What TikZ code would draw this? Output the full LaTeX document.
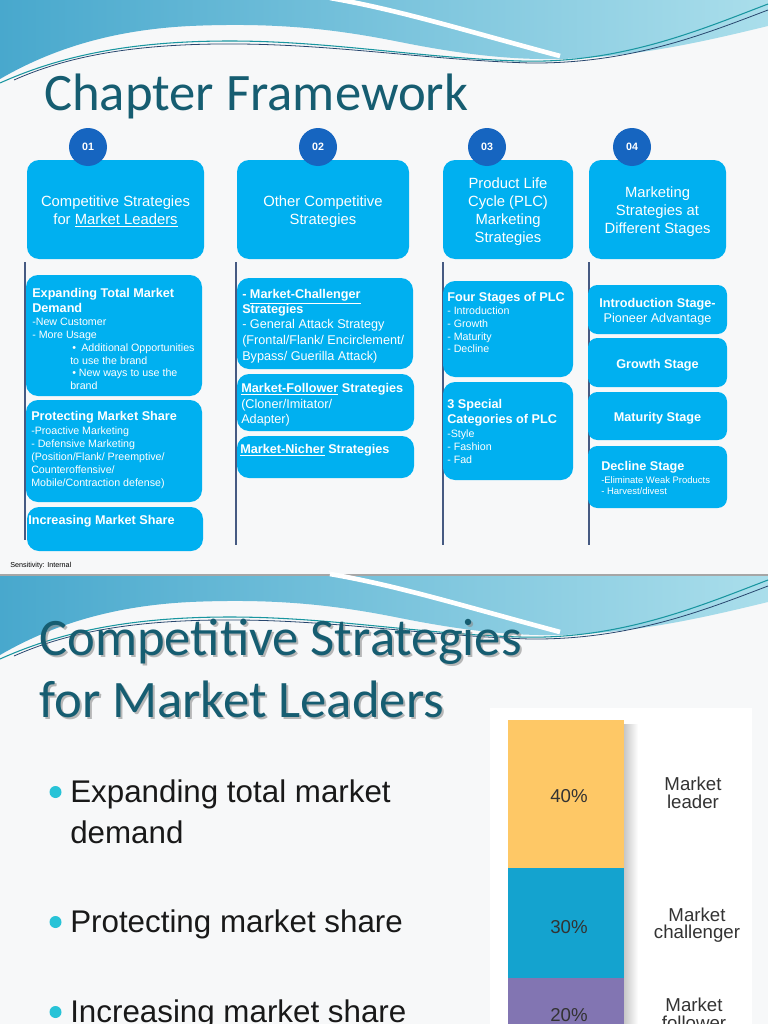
\documentclass[tikz,border=0pt]{standalone}
\usepackage{fontspec}
\setmainfont{Liberation Sans}
\newfontfamily\slidefont{Carlito}
\usetikzlibrary{fit}
\definecolor{paper}{RGB}{247,248,249}
\definecolor{boxblue}{RGB}{0,176,240}
\definecolor{numblue}{RGB}{22,101,192}
\definecolor{titleteal}{RGB}{22,93,113}
\definecolor{wavedeep}{RGB}{72,168,205}
\definecolor{wavelight}{RGB}{170,222,235}
\definecolor{swteal}{RGB}{25,150,160}
\definecolor{swnavy}{RGB}{40,70,110}
\definecolor{colrule}{RGB}{70,90,130}
\definecolor{dotcyan}{RGB}{40,195,215}
\definecolor{baryellow}{RGB}{254,200,102}
\definecolor{barblue}{RGB}{20,163,207}
\definecolor{barpurple}{RGB}{130,117,178}
\tikzset{
  card/.style={fill=boxblue, rounded corners=9pt, inner sep=0pt},
  hboxtext/.style={text=white, inner sep=0pt, align=center, yshift=-1.6pt,
              font=\fontsize{11.1}{13.5}\selectfont},
  stagetext/.style={text=white, inner sep=0pt, align=center, yshift=-1.9pt,
              font=\bfseries\fontsize{9.5}{11.25}\selectfont},
  cardhead/.style={text=white, inner sep=0pt, anchor=north west, align=left,
              font=\bfseries\fontsize{9.5}{11.25}\selectfont},
  cardtext/.style={text=white, inner sep=0pt, anchor=north west, align=left,
              font=\fontsize{8}{9.6}\selectfont},
  numdot/.style={circle, fill=numblue, text=white, inner sep=0pt, minimum size=28.5pt,
              font=\bfseries\fontsize{8}{8}\selectfont},
  slidetitle/.style={text=titleteal, inner sep=0pt, anchor=base west,
              font=\slidefont\fontsize{39.5}{40}\selectfont},
  bullettext/.style={text=black!90, inner sep=0pt, anchor=base west,
              font=\fontsize{23.5}{24}\selectfont},
  chartlabel/.style={text=black!80, inner sep=0pt, align=center,
              font=\fontsize{14}{13.1}\selectfont},
}

\begin{document}
\begin{tikzpicture}[x=0.75pt, y=-0.75pt]
    \useasboundingbox (0,0) rectangle (768,1024);
    \clip (0,0) rectangle (768,1024);
    \fill[paper] (0,0) rectangle (768,1024);
    % --- slide 1: banner ---
    \begin{scope}
      \shade[left color=wavedeep, right color=wavelight]
        (0,0) -- (0,79) .. controls (50,50) and (110,30) .. (190,26)
        .. controls (280,22) and (340,30) .. (400,42)
        .. controls (460,54) and (510,60) .. (560,59)
        .. controls (640,57) and (710,40) .. (768,26) -- (768,0) -- cycle;
      \draw[white, line width=3.5pt] (330,-2) .. controls (400,10) and (470,32) .. (560,56);
      \draw[swteal, line width=0.8pt] (0,83) .. controls (60,56) and (130,41) .. (230,41)
        .. controls (330,41) and (420,58) .. (520,61) .. controls (620,64) and (700,30) .. (768,4);
      \draw[swnavy, line width=0.6pt] (14,80) .. controls (70,55) and (140,43) .. (240,44)
        .. controls (340,45) and (430,60) .. (530,63) .. controls (630,64) and (705,34) .. (768,10);
    \end{scope}
    \node[slidetitle] (frametitle) at (44,110) {Chapter Framework};
    % --- slide 1: the four headers ---
    \node[card, fit={(27,160) (204,259)}] (lead) {};
    \node[hboxtext] (leadtext) at (lead.center) {Competitive Strategies\\for \underline{Market Leaders}};
    \node[card, fit={(237,160) (409,259)}] (other) {};
    \node[hboxtext] (othertext) at (other.center) {Other Competitive\\Strategies};
    \node[card, fit={(443,160) (573,259)}] (plc) {};
    \node[hboxtext] (plctext) at (plc.center) {Product Life\\Cycle (PLC)\\Marketing\\Strategies};
    \node[card, fit={(589,160) (726,259)}] (stages) {};
    \node[hboxtext] (stagestext) at (stages.center) {Marketing\\Strategies at\\Different Stages};
    \node[numdot] (num1) at (88,147) {01};
    \node[numdot] (num2) at (318,147) {02};
    \node[numdot] (num3) at (487,147) {03};
    \node[numdot] (num4) at (632,147) {04};
    \draw[colrule, line width=0.9pt] (25,262) -- (25,540);
    \draw[colrule, line width=0.9pt] (236,262) -- (236,545);
    \draw[colrule, line width=0.9pt] (443,262) -- (443,545);
    \draw[colrule, line width=0.9pt] (589,262) -- (589,545);
    % --- column 1 ---
    \node[card, fit={(26,275) (202,396)}] (expand) {};
    \node[cardhead] (expandhead) at (32,288) {Expanding Total Market\\Demand};
    \node[cardtext] (expandtext) at (32,318) {-New Customer\\- More Usage\\
      \hspace*{30pt}\textbullet\hspace{4pt}Additional Opportunities\\
      \hspace*{28.5pt}to use the brand\\
      \hspace*{30pt}\textbullet\ New ways to use the\\
      \hspace*{28.5pt}brand};
    \node[card, fit={(26,400) (202,502)}] (protect) {};
    \node[cardhead] (protecthead) at (31,411) {Protecting Market Share};
    \node[cardtext, font=\fontsize{8}{9.75}\selectfont] (protecttext) at (31,426)
      {-Proactive Marketing\\- Defensive Marketing\\(Position/Flank/ Preemptive/\\Counteroffensive/\\Mobile/Contraction defense)};
    \node[card, fit={(27,507) (203,551)}] (increase) {};
    \node[cardhead] (increasehead) at (28,515) {Increasing Market Share};
    \node[anchor=west, inner sep=0pt, font=\fontsize{5.4}{6}\selectfont] (sensitivity) at (10,566) {Sensitivity: Internal};
    % --- column 2 ---
    \node[card, fit={(237,278) (413,369)}] (challenger) {};
    \node[cardhead] (challengerhead) at (242,289) {- \underline{Market-Challenger}\\Strategies};
    \node[cardtext, font=\fontsize{9.5}{12}\selectfont] (challengertext) at (242,319)
      {- General Attack Strategy\\(Frontal/Flank/ Encirclement/\\Bypass/ Guerilla Attack)};
    \node[card, fit={(237,374) (414,431)}] (follower) {};
    \node[cardhead] (followerhead) at (241,383) {\underline{Market-Follower} Strategies};
    \node[cardtext, font=\fontsize{9.5}{11.25}\selectfont] (followertext) at (241,399) {(Cloner/Imitator/\\Adapter)};
    \node[card, fit={(237,436) (414,478)}] (nicher) {};
    \node[cardhead] (nicherhead) at (240,444) {\underline{Market-Nicher} Strategies};
    % --- column 3 ---
    \node[card, fit={(443,281) (573,377)}] (four) {};
    \node[cardhead] (fourhead) at (447,292) {Four Stages of PLC};
    \node[cardtext, font=\fontsize{8}{9.5}\selectfont] (fourtext) at (447,307) {- Introduction\\- Growth\\- Maturity\\- Decline};
    \node[card, fit={(443,382) (573,480)}] (special) {};
    \node[cardhead] (specialhead) at (447,399) {3 Special\\Categories of PLC};
    \node[cardtext, font=\fontsize{8}{9.75}\selectfont] (specialtext) at (447,429) {-Style\\- Fashion\\- Fad};
    % --- column 4 ---
    \node[card, rounded corners=7pt, fit={(588,285) (727,334)}] (intro) {};
    \node[stagetext] (introtext) at (intro.center) {Introduction Stage-\\{\mdseries Pioneer Advantage}};
    \node[card, rounded corners=7pt, fit={(588,338) (727,387)}] (growth) {};
    \node[stagetext] (growthtext) at (growth.center) {Growth Stage};
    \node[card, rounded corners=7pt, fit={(588,392) (727,440)}] (maturity) {};
    \node[stagetext] (maturitytext) at (maturity.center) {Maturity Stage};
    \node[card, rounded corners=7pt, fit={(588,446) (727,508)}] (decline) {};
    \node[cardhead] (declinehead) at (601,461) {Decline Stage};
    \node[cardtext, font=\fontsize{7.1}{8.25}\selectfont] (declinetext) at (601,476) {-Eliminate Weak Products\\- Harvest/divest};
    % --- divider ---
    \draw[black!35, line width=1.5pt] (0,574.5) -- (768,574.5);
    % --- slide 2: banner ---
    \begin{scope}[shift={(0,576)}]
      \shade[left color=wavedeep, right color=wavelight]
        (0,0) -- (0,79) .. controls (50,50) and (110,30) .. (190,26)
        .. controls (280,22) and (340,30) .. (400,42)
        .. controls (460,54) and (510,60) .. (560,59)
        .. controls (640,57) and (710,40) .. (768,26) -- (768,0) -- cycle;
      \draw[white, line width=3.5pt] (330,-2) .. controls (400,10) and (470,32) .. (560,56);
      \draw[swteal, line width=0.8pt] (0,83) .. controls (60,56) and (130,41) .. (230,41)
        .. controls (330,41) and (420,58) .. (520,61) .. controls (620,64) and (700,30) .. (768,4);
      \draw[swnavy, line width=0.6pt] (14,80) .. controls (70,55) and (140,43) .. (240,44)
        .. controls (340,45) and (430,60) .. (530,63) .. controls (630,64) and (705,34) .. (768,10);
    \end{scope}
    \node[slidetitle, text=black!45, opacity=0.6] (leadshadowa) at (41,657) {Competitive Strategies};
    \node[slidetitle, text=black!45, opacity=0.6] (leadshadowb) at (41,719) {for Market Leaders};
    \node[slidetitle] (leadtitlea) at (39,655) {Competitive Strategies};
    \node[slidetitle] (leadtitleb) at (39,717) {for Market Leaders};
    % --- slide 2: bullets ---
    \node[circle, fill=dotcyan, minimum size=9pt, inner sep=0pt] (dot1) at (55.5,792) {};
    \node[bullettext] (expandline) at (70,802) {Expanding total market};
    \node[bullettext] (demandline) at (70,843) {demand};
    \node[circle, fill=dotcyan, minimum size=9pt, inner sep=0pt] (dot2) at (55.5,922) {};
    \node[bullettext] (protectline) at (70,932) {Protecting market share};
    \node[circle, fill=dotcyan, minimum size=9pt, inner sep=0pt] (dot3) at (55.5,1012) {};
    \node[bullettext] (increaseline) at (70,1022) {Increasing market share};
    % --- slide 2: share chart ---
    \fill[white] (490,708) rectangle (752,1030);
    \shade[left color=black!22, right color=white] (624,724) rectangle (638,1030);
    \fill[baryellow] (508,720) rectangle (624,868);
    \fill[barblue] (508,868) rectangle (624,978);
    \fill[barpurple] (508,978) rectangle (624,1030);
    \node[chartlabel] (pct40) at (569,796) {40\%};
    \node[chartlabel] (pct30) at (569,927) {30\%};
    \node[chartlabel] (pct20) at (569,1015) {20\%};
    \node[chartlabel] (leaderlbl) at (693,793) {Market\\leader};
    \node[chartlabel] (challengerlbl) at (697,925) {Market\\challenger};
    \node[chartlabel] (followerlbl) at (694,1014) {Market\\follower};
\end{tikzpicture}
\end{document}
